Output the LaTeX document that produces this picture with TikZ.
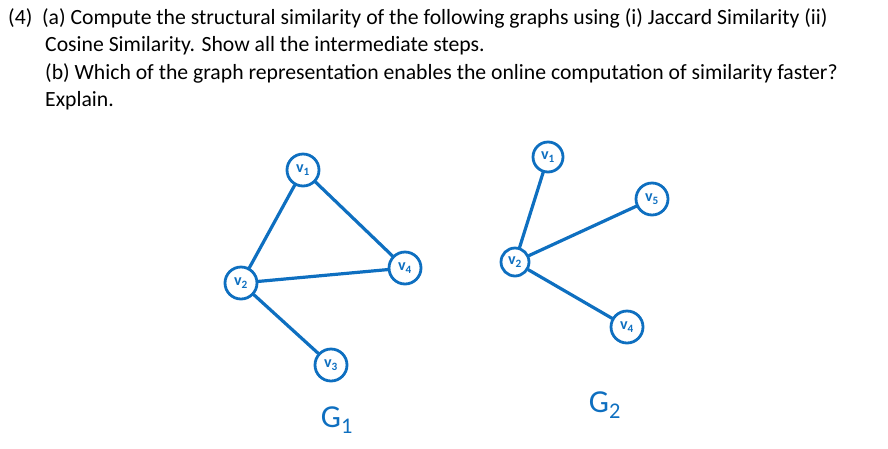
\documentclass[tikz,border=0pt]{standalone}
\usepackage{fontspec}
\setmainfont{Carlito}
\definecolor{pen}{HTML}{0E6FC0}
\begin{document}
\begin{tikzpicture}[x=1pt,y=-1pt,
  vert/.style={circle,draw=pen,line width=2.8pt,minimum size=32pt,inner sep=0pt,text=pen,font=\bfseries\fontsize{16}{16}\selectfont},
  edge/.style={draw=pen,line width=3.2pt,line cap=round},
  txt/.style={anchor=west,inner sep=0pt,font=\fontsize{21.7}{24}\selectfont}]
\useasboundingbox (0,0) rectangle (888,448);
\node[txt] (l1) at (8,18) {(4)\ \ (a) Compute the structural similarity of the following graphs using (i) Jaccard Similarity (ii)};
\node[txt] (l2) at (45,46) {Cosine Similarity. Show all the intermediate steps.};
\node[txt] (l3) at (45,73) {(b) Which of the graph representation enables the online computation of similarity faster?};
\node[txt] (l4) at (45,101) {Explain.};
% G1
\node[vert] (a1) at (303,170) {v\textsubscript{1}};
\node[vert] (a2) at (241,283) {v\textsubscript{2}};
\node[vert] (a4) at (405,268) {v\textsubscript{4}};
\node[vert] (a3) at (331,365) {v\textsubscript{3}};
\draw[edge] (a1) -- (a2);
\draw[edge] (a1) -- (a4);
\draw[edge] (a2) -- (a4);
\draw[edge] (a2) -- (a3);
% G2
\node[vert,minimum size=30pt] (b1) at (548,157) {v\textsubscript{1}};
\node[vert,minimum size=28pt] (b2) at (515,262) {v\textsubscript{2}};
\node[vert] (b5) at (652,199) {v\textsubscript{5}};
\node[vert] (b4) at (627,327) {v\textsubscript{4}};
\draw[edge] (b1) -- (b2);
\draw[edge] (b2) -- (b5);
\draw[edge] (b2) -- (b4);
\node[text=pen,font=\fontsize{32}{32}\selectfont] (g1) at (337,420) {G\textsubscript{1}};
\node[text=pen,font=\fontsize{32}{32}\selectfont] (g2) at (605,405) {G\textsubscript{2}};
\end{tikzpicture}
\end{document}
